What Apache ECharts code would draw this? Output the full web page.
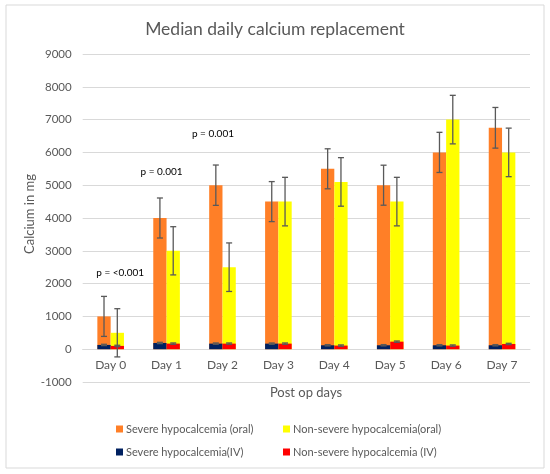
<!DOCTYPE html>
<html>
<head>
    <meta charset="utf-8">
    <title>Median daily calcium replacement</title>
    <script src="https://cdn.jsdelivr.net/npm/echarts@6/dist/echarts.min.js"></script>
    <style>
        html, body { margin: 0; padding: 0; background: #fff; }
    </style>
</head>
<body>
    <div id="main" style="width: 550px;height:474px;"></div>
    <script type="text/javascript">
        // data
        var days = ['Day 0', 'Day 1', 'Day 2', 'Day 3', 'Day 4', 'Day 5', 'Day 6', 'Day 7'];
        var severeOral = [1000, 4000, 5000, 4500, 5500, 5000, 6000, 6750];
        var nonSevereOral = [500, 3000, 2500, 4500, 5100, 4500, 7000, 6000];
        var severeIV = [130, 190, 170, 170, 120, 120, 120, 120];
        var nonSevereIV = [100, 170, 170, 170, 110, 230, 110, 160];
        var severeOralErr = [610, 610, 615, 610, 610, 610, 612, 620];
        var nonSevereOralErr = [735, 735, 740, 740, 740, 740, 740, 740];
        var severeIVErr = [20, 20, 20, 20, 20, 20, 20, 20];
        var nonSevereIVErr = [20, 20, 20, 20, 20, 20, 20, 20];
        var yTicks = [-1000, 0, 1000, 2000, 3000, 4000, 5000, 6000, 7000, 8000, 9000];
        var pTexts = ['p = <0.001', 'p = 0.001', 'p = 0.001'];
        var pX = [0.17, 0.91, 1.83];
        var pY = [2324, 5413, 6553];

        var names = ['Severe hypocalcemia (oral)', 'Non-severe hypocalcemia(oral)',
                     'Severe hypocalcemia(IV)', 'Non-severe hypocalcemia (IV)'];
        var colors = ['#FF7F27', '#FFFF00', '#002060', '#FF0000'];
        var gray = '#595959';
        var font = 'Lato';
        var barW = 13.3;

        var myChart = echarts.init(document.getElementById('main'));

        function errSeries(vals, errs, side, axisIdx) {
            return {
                type: 'custom',
                xAxisIndex: axisIdx,
                z: 6,
                silent: true,
                data: days.map(function (d, i) { return [i, vals[i], errs[i]]; }),
                encode: { x: 0, y: 1 },
                renderItem: function (params, api) {
                    var i = api.value(0), v = api.value(1), e = api.value(2);
                    var top = api.coord([i, v + e]);
                    var bot = api.coord([i, v - e]);
                    var x = top[0] + side * barW / 2;
                    var st = { stroke: gray, lineWidth: 1.3 };
                    return {
                        type: 'group',
                        children: [
                            { type: 'line', shape: { x1: x, y1: top[1], x2: x, y2: bot[1] }, style: st },
                            { type: 'line', shape: { x1: x - 3, y1: top[1], x2: x + 3, y2: top[1] }, style: st },
                            { type: 'line', shape: { x1: x - 3, y1: bot[1], x2: x + 3, y2: bot[1] }, style: st }
                        ]
                    };
                }
            };
        }

        var legendText = { color: gray, fontSize: 11, fontFamily: font, lineHeight: 14, padding: [0, 0, 0, -2] };

        var option = {
            animation: false,
            title: {
                text: 'Median daily calcium replacement',
                left: 'center',
                top: 15,
                textStyle: { color: gray, fontSize: 17.5, fontWeight: 'normal', fontFamily: font }
            },
            graphic: [{
                type: 'rect',
                shape: { x: 6, y: 5, width: 538, height: 463 },
                style: { fill: 'none', stroke: '#d9d9d9', lineWidth: 1 },
                silent: true
            }, {
                // x axis title
                type: 'text',
                x: 306, y: 393,
                style: { text: 'Post op days', align: 'center', verticalAlign: 'middle',
                         fill: gray, fontSize: 13, fontFamily: font },
                silent: true
            }, {
                // y axis title
                type: 'text',
                x: 30, y: 214,
                rotation: Math.PI / 2,
                style: { text: 'Calcium in mg', align: 'center', verticalAlign: 'middle',
                         fill: gray, fontSize: 13, fontFamily: font },
                silent: true
            }],
            legend: [{
                data: [names[0], names[2]],
                orient: 'vertical',
                left: 111,
                top: 417,
                itemWidth: 7,
                itemHeight: 7,
                itemGap: 9,
                icon: 'rect',
                textStyle: legendText
            }, {
                data: [names[1], names[3]],
                orient: 'vertical',
                left: 278,
                top: 417,
                itemWidth: 7,
                itemHeight: 7,
                itemGap: 9,
                icon: 'rect',
                textStyle: legendText
            }],
            grid: { left: 82.7, right: 20, top: 54, bottom: 92 },
            xAxis: [{
                type: 'category',
                data: days,
                offset: -32.8,
                axisLine: { onZero: false, lineStyle: { color: '#d9d9d9' } },
                axisTick: { show: false },
                axisLabel: { color: gray, fontSize: 12, fontFamily: font, margin: 10 }
            }, {
                type: 'category',
                data: days,
                position: 'top',
                show: false
            }],
            yAxis: {
                type: 'value',
                min: yTicks[0],
                max: yTicks[yTicks.length - 1],
                interval: 1000,
                axisLine: { show: false },
                axisTick: { show: false },
                splitLine: { lineStyle: { color: '#d9d9d9' } },
                axisLabel: {
                    color: gray, fontSize: 11.5, fontFamily: font, margin: 11,
                    formatter: function (v) { return String(v); }
                }
            },
            series: [{
                name: names[0], type: 'bar', xAxisIndex: 0, barWidth: barW, barGap: '0%',
                itemStyle: { color: colors[0] }, data: severeOral
            }, {
                name: names[1], type: 'bar', xAxisIndex: 0, barWidth: barW, barGap: '0%',
                itemStyle: { color: colors[1] }, data: nonSevereOral
            }, {
                name: names[2], type: 'bar', xAxisIndex: 1, barWidth: barW, barGap: '0%', z: 3,
                itemStyle: { color: colors[2] }, data: severeIV
            }, {
                name: names[3], type: 'bar', xAxisIndex: 1, barWidth: barW, barGap: '0%', z: 3,
                itemStyle: { color: colors[3] }, data: nonSevereIV
            },
            errSeries(severeOral, severeOralErr, -1, 0),
            errSeries(nonSevereOral, nonSevereOralErr, 1, 0),
            errSeries(severeIV, severeIVErr, -1, 1),
            errSeries(nonSevereIV, nonSevereIVErr, 1, 1),
            {
                type: 'custom',
                z: 7,
                silent: true,
                data: pTexts.map(function (t, i) { return [0, pY[i], pX[i]]; }),
                encode: { x: 0, y: 1 },
                renderItem: function (params, api) {
                    var p = api.coord([0, api.value(1)]);
                    var step = api.size([1, 0])[0];
                    return {
                        type: 'text',
                        style: {
                            text: pTexts[params.dataIndex],
                            x: p[0] + api.value(2) * step,
                            y: p[1],
                            align: 'center',
                            verticalAlign: 'middle',
                            fill: '#000',
                            fontSize: 10,
                            fontFamily: font
                        }
                    };
                }
            }]
        };

        myChart.setOption(option);
    </script>
</body>
</html>
